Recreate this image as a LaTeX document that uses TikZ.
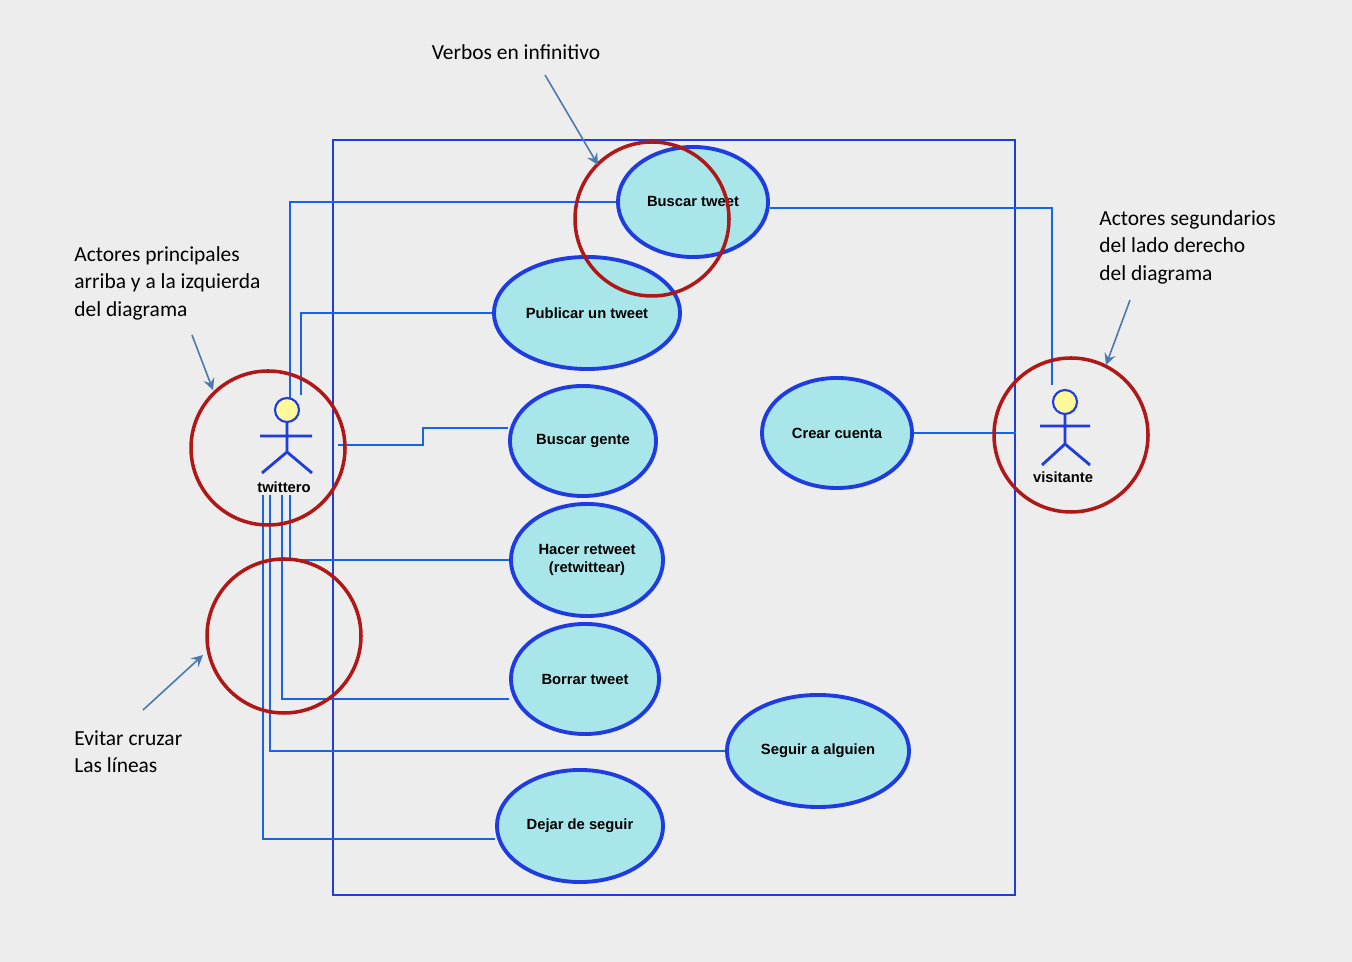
\documentclass[tikz,border=0pt]{standalone}
\usepackage{fontspec}
\setmainfont{Carlito}
\newfontfamily\uml{Liberation Sans}
\usetikzlibrary{arrows, positioning, calc, shapes}
\definecolor{bg}{HTML}{EDEDED}
\definecolor{umlblue}{HTML}{1E3CE0}
\definecolor{caso}{HTML}{A9E6EA}
\definecolor{marca}{HTML}{B01818}
\definecolor{nota}{HTML}{4A78B0}
\tikzstyle{caso} = [ellipse, draw=umlblue, line width=1.1pt, fill=caso, font=\uml\bfseries\fontsize{4.2}{5}\selectfont, align=center, inner sep=0pt]
\tikzstyle{enlace} = [draw=umlblue!80!cyan, line width=0.5pt]
\tikzstyle{circulo} = [draw=marca, line width=1pt]
\tikzstyle{anota} = [font=\fontsize{6.1}{7.8}\selectfont, align=left, anchor=north west]
\tikzstyle{flecha} = [->, >=stealth, nota, line width=0.45pt]
\tikzstyle{cabeza} = [circle, draw=umlblue, fill=yellow!40, minimum size=0.24cm, inner sep=0pt, line width=0.6pt]

\begin{document}
\begin{tikzpicture}[x=0.01cm, y=-0.01cm]

    % Background and system box
    \fill[bg] (0,0) rectangle (1352,962);
    \draw[umlblue, line width=0.7pt] (333,140) rectangle (1015,895);

    % Use cases
    \node (bt) [caso, minimum width=1.50cm, minimum height=1.10cm] at (693,202) {Buscar tweet};
    \node (pt) [caso, minimum width=1.86cm, minimum height=1.12cm] at (587,313) {Publicar un tweet};
    \node (bg) [caso, minimum width=1.46cm, minimum height=1.10cm] at (583,441) {Buscar gente};
    \node (hr) [caso, minimum width=1.52cm, minimum height=1.12cm] at (587,560) {Hacer retweet\\(retwittear)};
    \node (br) [caso, minimum width=1.48cm, minimum height=1.10cm] at (585,679) {Borrar tweet};
    \node (sa) [caso, minimum width=1.82cm, minimum height=1.12cm] at (818,751) {Seguir a alguien};
    \node (ds) [caso, minimum width=1.66cm, minimum height=1.12cm] at (580,826) {Dejar de seguir};
    \node (cc) [caso, minimum width=1.50cm, minimum height=1.10cm] at (837,433) {Crear cuenta};

    % Actors
    \node (tw) [cabeza] at (287,410) {};
    \draw[umlblue, line width=0.8pt] (tw.south) -- (287,452) (260,436) -- (312,436)
        (262,473) -- (287,452) -- (312,473);
    \node (twl) [font=\uml\bfseries\fontsize{4.2}{5}\selectfont] at (284,487) {twittero};
    \node (vi) [cabeza] at (1065,402) {};
    \draw[umlblue, line width=0.8pt] (vi.south) -- (1065,444) (1040,426) -- (1090,426)
        (1042,465) -- (1065,444) -- (1090,465);
    \node (vil) [font=\uml\bfseries\fontsize{4.2}{5}\selectfont] at (1063,477) {visitante};

    % Connectors
    \coordinate (t1) at (290,398);
    \coordinate (t2) at (301,395);
    \coordinate (t3) at (338,445);
    \draw[enlace] (t1) |- (bt.west);
    \draw[enlace] (t2) |- (pt.west);
    \draw[enlace] (t3) -- (423,445) |- ([yshift=0.13cm]bg.west);
    \draw[enlace] (290,495) |- (hr.west);
    \draw[enlace] (282,495) |- ([yshift=-0.2cm]br.west);
    \draw[enlace] (270,495) |- (sa.west);
    \draw[enlace] (263,495) |- ([yshift=-0.13cm]ds.west);
    \draw[enlace] (bt.east) ++(0,6) -| (1052,385);
    \draw[enlace] (cc.east) -- (1016,433);

    % Red marks
    \draw[circulo] (652,219) circle (77);
    \draw[circulo] (268,448) circle (77);
    \draw[circulo] (284,636) circle (77);
    \draw[circulo] (1071,435) circle (77);

    % Annotations
    \node (n1) [anota, anchor=center] at (516,52) {Verbos en infinitivo};
    \node (n2) [anota] at (62,234) {Actores principales\\arriba y a la izquierda\\del diagrama};
    \node (n3) [anota] at (1087,198) {Actores segundarios\\del lado derecho\\del diagrama};
    \node (n4) [anota] at (62,718) {Evitar cruzar\\Las líneas};
    \draw[flecha] (545,75) -- (598,165);
    \draw[flecha] (192,335) -- (213,390);
    \draw[flecha] (1130,300) -- (1106,365);
    \draw[flecha] (143,710) -- (203,655);

\end{tikzpicture}
\end{document}
